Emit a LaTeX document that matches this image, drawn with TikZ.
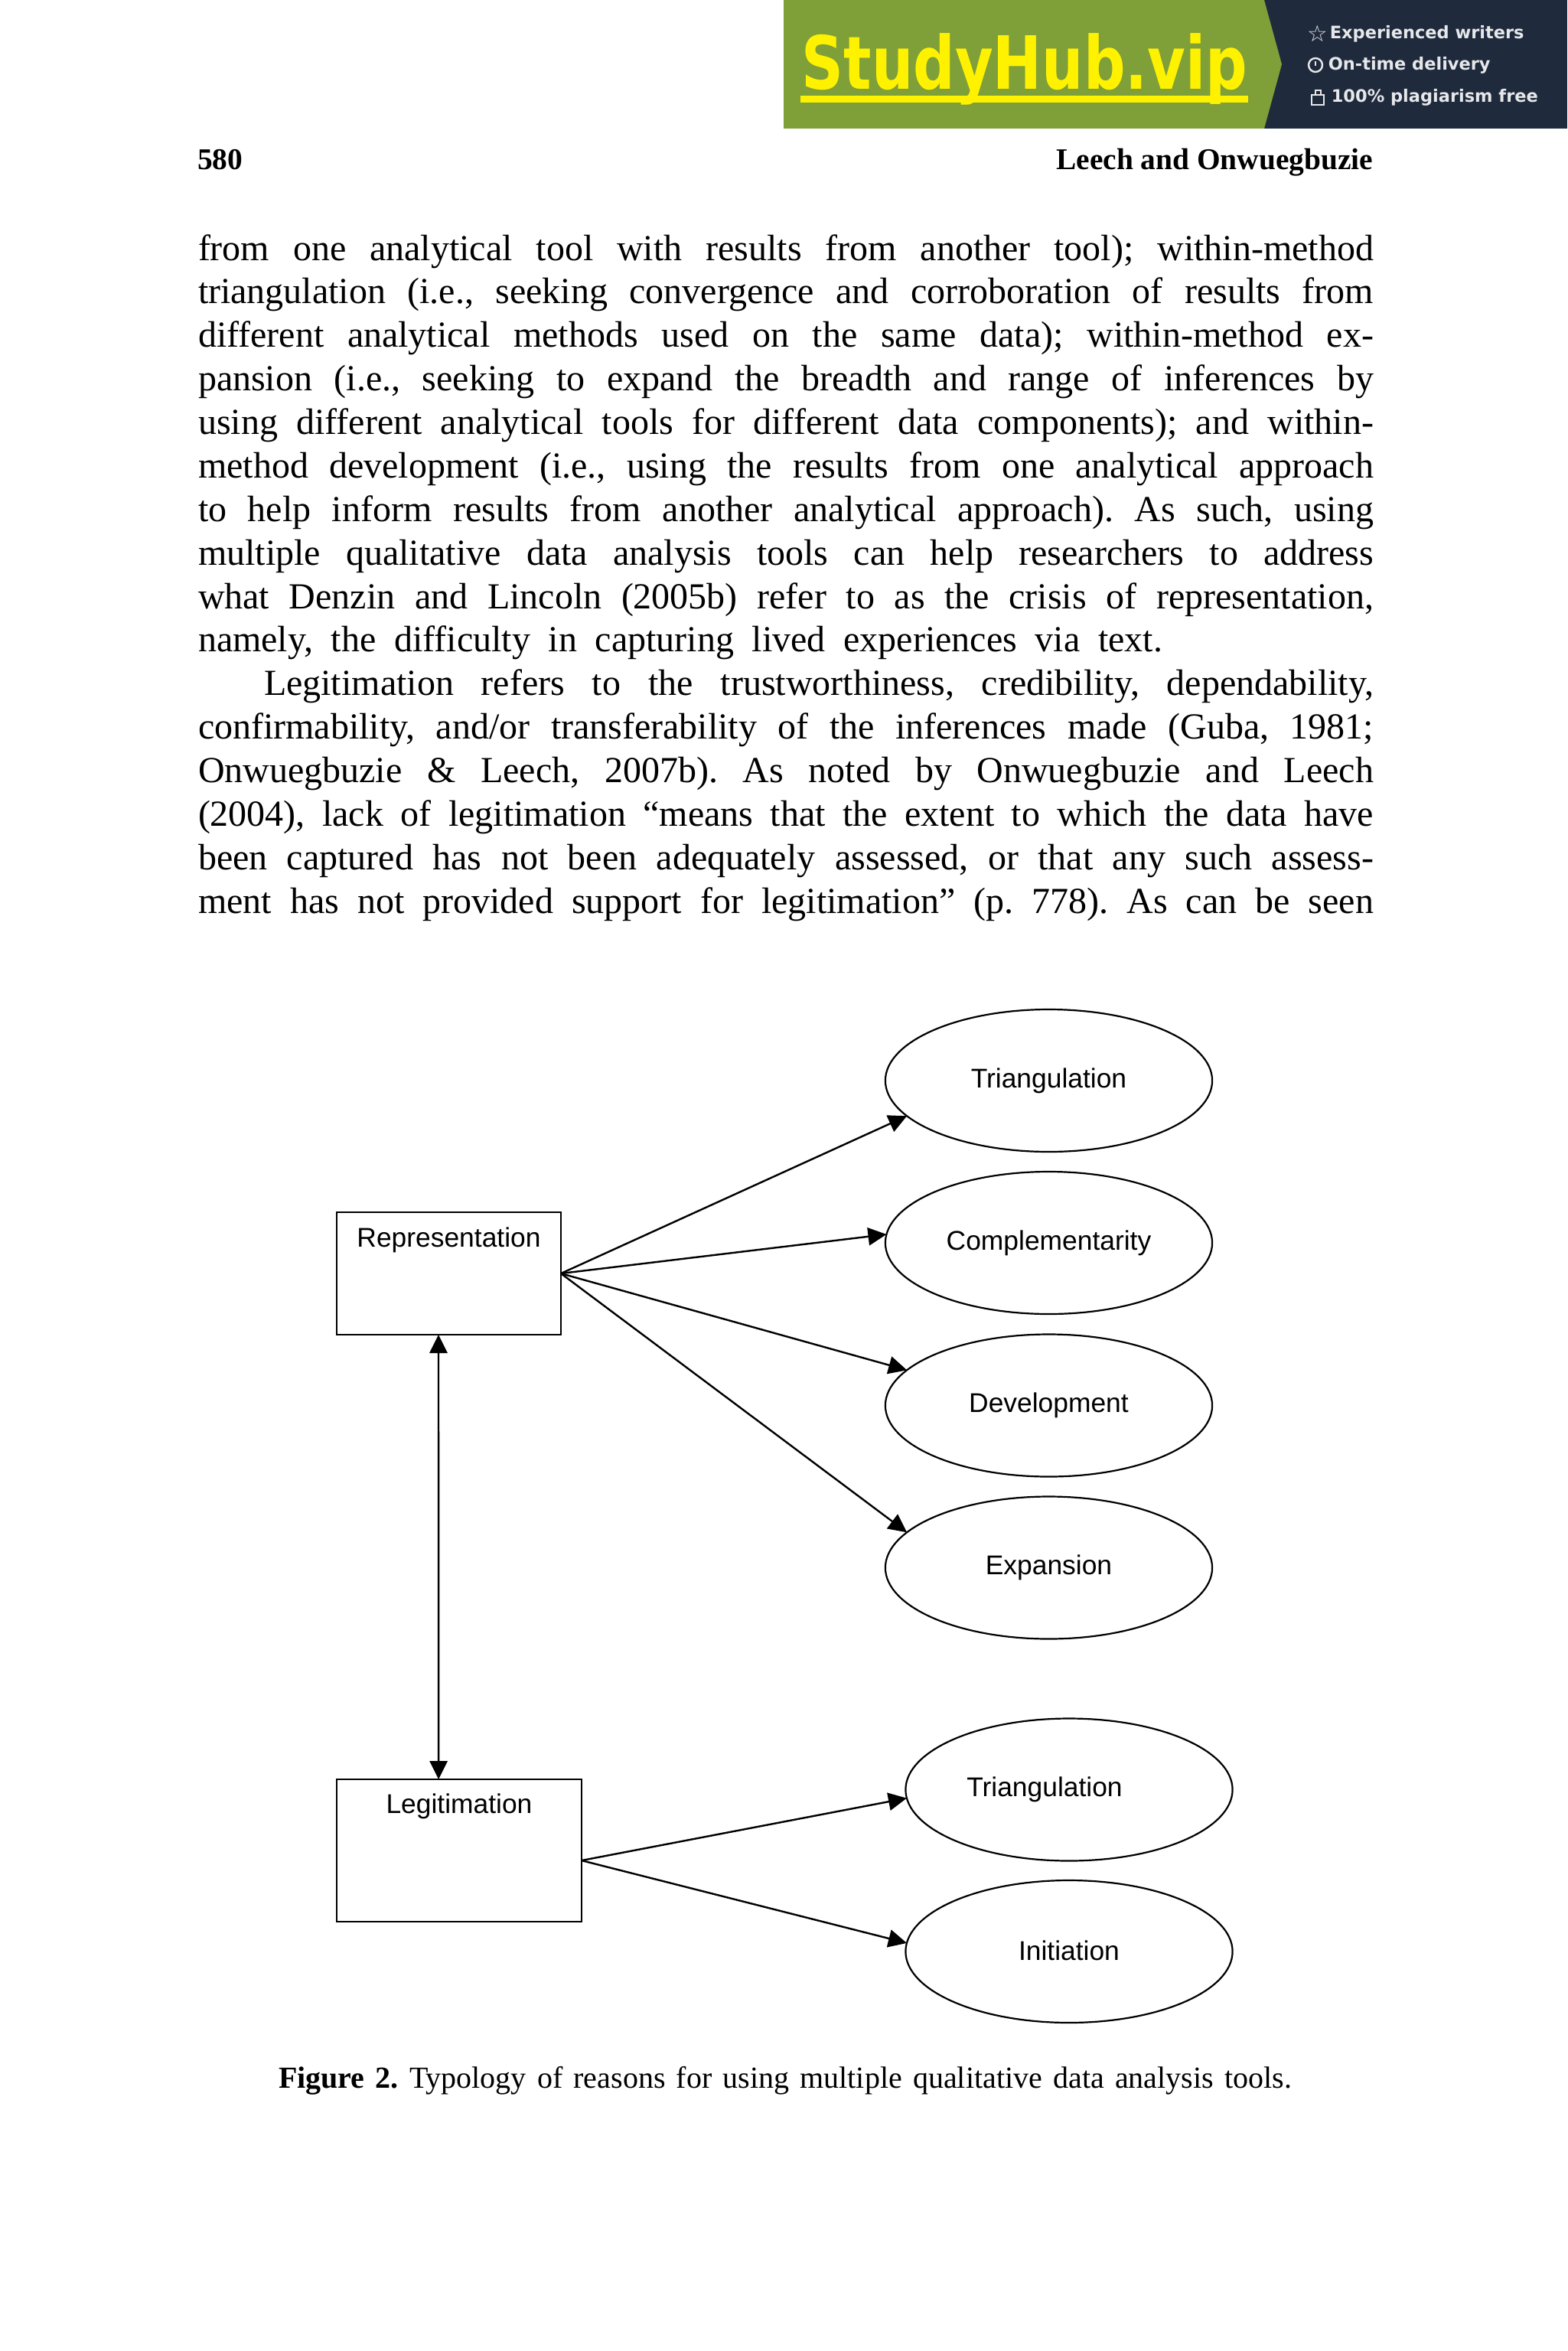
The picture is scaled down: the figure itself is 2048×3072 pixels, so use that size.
\documentclass[tikz,border=0pt]{standalone}
\usepackage{fontspec}
\usepackage{graphicx}
\setmainfont{Liberation Serif}
\newfontfamily\figfont{Liberation Sans}
\newfontfamily\banfont{DejaVu Sans}
\usetikzlibrary{arrows.meta,shapes.geometric,calc}
\definecolor{bangreen}{HTML}{7F9F38}
\definecolor{bandark}{HTML}{1F2A3C}
\definecolor{banyellow}{HTML}{FFF200}
\definecolor{bantext}{HTML}{E6E8EA}
\newcommand\fitline[2]{\makebox[#1pt][s]{\frenchspacing #2}}
\tikzset{
  textline/.style={anchor=base west,inner sep=0,outer sep=0,font=\fontsize{12}{14}\selectfont},
  headtext/.style={inner sep=0,outer sep=0,font=\fontsize{9.85}{12}\selectfont\bfseries},
  captext/.style={anchor=base west,inner sep=0,outer sep=0,font=\fontsize{10}{12}\selectfont},
  oval/.style={ellipse,draw=black,line width=.55pt,inner sep=0,outer sep=0,minimum width=106.8pt,minimum height=46.5pt},
  boxn/.style={rectangle,draw=black,line width=.55pt,inner sep=0,outer sep=0},
  lab/.style={font=\figfont\fontsize{8.85}{10}\selectfont,inner sep=0},
  link/.style={line width=.6pt,-{Triangle[length=6pt,width=5.8pt]}},
  biarrow/.style={line width=.6pt,{Triangle[length=6pt,width=5.8pt]}-{Triangle[length=6pt,width=5.8pt]}},
  bantxt/.style={anchor=base west,inner sep=0,text=bantext,font=\banfont\bfseries\fontsize{5.62}{6}\selectfont}
}
\begin{document}
\begin{tikzpicture}[x=0.25pt,y=-0.25pt]
\useasboundingbox (0,0) rectangle (2048,3072);
\fill[white] (0,0) rectangle (2048,3072);
% banner
\fill[bandark] (1640,0) rectangle (2048,168);
\fill[bangreen] (1024,0) -- (1652,0) -- (1675,84) -- (1652,168) -- (1024,168) -- cycle;
\node[anchor=base west,inner sep=0,text=banyellow,font=\banfont\bfseries\fontsize{24}{24}\selectfont] (studyhub) at (1047,117) {\scalebox{.795}[1]{StudyHub.vip}};
\fill[banyellow] (1046,125) rectangle (1631,134);
\node[anchor=center,inner sep=0,text=bantext,font=\banfont\fontsize{7.4}{8}\selectfont] (staricon) at (1722,44) {☆};
\node[bantxt] (bt1) at (1737,51) {Experienced writers};
\draw[bantext,line width=.6pt] (1719,85) circle (9);
\draw[bantext,line width=.5pt] (1719,80) -- (1719,86);
\node[bantxt] (bt2) at (1735,92) {On-time delivery};
\draw[bantext,line width=.45pt] (1714,124) rectangle (1730,137);
\draw[bantext,line width=.45pt] (1719,124) -- (1719,118) -- (1726,118) -- (1726,124);
\node[bantxt] (bt3) at (1739,134) {100\% plagiarism free};
% header
\node[headtext,anchor=base west] (pnum) at (258,222) {580};
\node[headtext,anchor=base east] (runhead) at (1794,222) {Leech and Onwuegbuzie};
% body
\node[textline] (l1) at (259,340) {\fitline{384}{from one analytical tool with results from another tool); within-method}};
\node[textline] (l2) at (259,396.9) {\fitline{384}{triangulation (i.e., seeking convergence and corroboration of results from}};
\node[textline] (l3) at (259,453.7) {\fitline{384}{different analytical methods used on the same data); within-method ex-}};
\node[textline] (l4) at (259,510.6) {\fitline{384}{pansion (i.e., seeking to expand the breadth and range of inferences by}};
\node[textline] (l5) at (259,567.5) {\fitline{384}{using different analytical tools for different data components); and within-}};
\node[textline] (l6) at (259,624.4) {\fitline{384}{method development (i.e., using the results from one analytical approach}};
\node[textline] (l7) at (259,681.2) {\fitline{384}{to help inform results from another analytical approach). As such, using}};
\node[textline] (l8) at (259,738.1) {\fitline{384}{multiple qualitative data analysis tools can help researchers to address}};
\node[textline] (l9) at (259,795) {\fitline{384}{what Denzin and Lincoln (2005b) refer to as the crisis of representation,}};
\node[textline] (l10) at (259,851.8) {\fitline{315}{namely, the difficulty in capturing lived experiences via text.}};
\node[textline] (l11) at (345,908.7) {\fitline{362.5}{Legitimation refers to the trustworthiness, credibility, dependability,}};
\node[textline] (l12) at (259,965.6) {\fitline{384}{confirmability, and/or transferability of the inferences made (Guba, 1981;}};
\node[textline] (l13) at (259,1022.4) {\fitline{384}{Onwuegbuzie \& Leech, 2007b). As noted by Onwuegbuzie and Leech}};
\node[textline] (l14) at (259,1079.3) {\fitline{384}{(2004), lack of legitimation “means that the extent to which the data have}};
\node[textline] (l15) at (259,1136.2) {\fitline{384}{been captured has not been adequately assessed, or that any such assess-}};
\node[textline] (l16) at (259,1193) {\fitline{384}{ment has not provided support for legitimation” (p. 778). As can be seen}};
% figure
\node[boxn,minimum width=73.25pt,minimum height=40pt,label={[lab,yshift=11pt]center:Representation}] (rep) at (586.5,1664) {};
\node[boxn,minimum width=80pt,minimum height=46.5pt,label={[lab,yshift=14.5pt]center:Legitimation}] (leg) at (600,2418) {};
\node[oval,label={[lab]center:Triangulation}] (tri) at (1370.5,1412) {};
\node[oval,label={[lab]center:Complementarity}] (com) at (1370.5,1624) {};
\node[oval,label={[lab]center:Development}] (dev) at (1370.5,1836.5) {};
\node[oval,label={[lab]center:Expansion}] (exp) at (1370.5,2048.5) {};
\node[oval,label={[lab,xshift=-8pt]center:Triangulation}] (tri2) at (1397,2338.5) {};
\node[oval,label={[lab,yshift=.4pt]center:Initiation}] (ini) at (1397,2550) {};
\coordinate (legout) at ($(leg.north east)!.57!(leg.south east)$);
\draw[link] (rep.east) -- (tri.194);
\draw[link] (rep.east) -- (com.177);
\draw[link] (rep.east) -- (dev.166);
\draw[link] (rep.east) -- (exp.166);
\draw[link] (legout) -- (tri2.183);
\draw[link] (legout) -- (ini.177);
\draw[biarrow] ($(rep.south west)!.454!(rep.south east)$) -- ($(leg.north west)!.416!(leg.north east)$);
% caption
\node[captext] (cap) at (364,2728) {\fitline{331}{\textbf{Figure 2.} Typology of reasons for using multiple qualitative data analysis tools.}};
\end{tikzpicture}
\end{document}
